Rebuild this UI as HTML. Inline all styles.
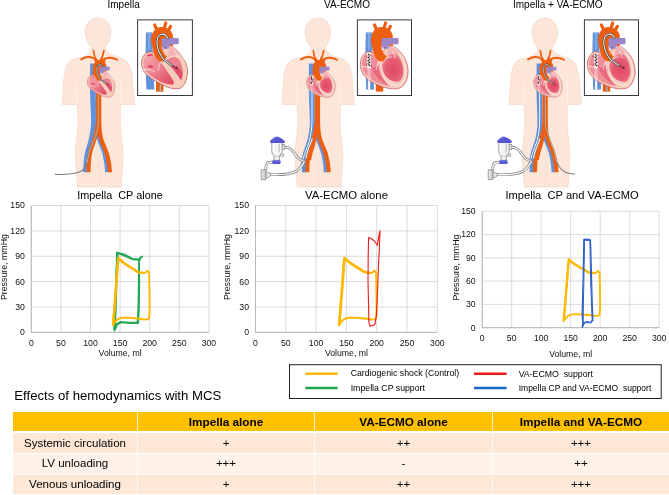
<!DOCTYPE html>
<html lang="en">
<head>
<meta charset="utf-8">
<title>Effects of hemodynamics with MCS</title>
<style>
html,body{margin:0;padding:0;background:#fff;}
body{width:669px;height:495px;position:relative;overflow:hidden;font-family:"Liberation Sans", Arial, sans-serif;}
svg{position:absolute;left:0;top:0;}
svg text{font-family:"Liberation Sans", Arial, sans-serif;}
table{position:absolute;left:13px;top:412px;width:656px;border-collapse:separate;border-spacing:0;font-size:11.55px;color:#000;table-layout:fixed;}
th,td{padding:0;text-align:center;vertical-align:middle;border-left:1px solid rgba(255,255,255,0.8);white-space:nowrap;box-sizing:border-box;}
th:first-child,td:first-child{border-left:none;}
thead th{background:#FFC000;height:21px;line-height:19px;font-weight:bold;font-size:11.75px;border-bottom:2px solid #fff;}
tbody td{height:20.5px;line-height:19.5px;border-top:1px solid rgba(255,255,255,0.7);}
tbody tr:first-child td{border-top:none;height:20px;line-height:20px;}
tbody tr:nth-child(odd) td{background:#FDE7D6;}
tbody tr:nth-child(even) td{background:#FFF3E9;}
</style>
</head>
<body>
<svg width="669" height="495" viewBox="0 0 669 495">
<g transform="translate(0,0)">
<path fill="#FCE6D9" stroke="#F3D2C0" stroke-width="0.6" d="M98 17.9 C105.5 17.9 110.8 24 110.8 31.5 C110.8 38 108.5 43.5 105.6 47 L105.6 48.5 C106.5 51 108 52.8 110.6 54.1 C113 55.4 115 56.2 117.6 57 C121 58 124 59.2 126.1 61.2 C128.3 63.2 129.6 65.6 130.4 68.3 C131.6 72 132.2 75.6 132.5 79.6 L134.6 104.4 L120.7 104.4 C120.3 111 120.2 117 120.3 123.8 C120.6 130 121.6 137 122.2 143 C122.8 148 123.2 153 123.1 158.3 L121.2 187.1 L99.4 187.1 L99.2 162.5 Q98.8 160 98.4 162.5 L98.2 187.1 L77.6 187.1 L75.2 158.3 C75.1 153 75.5 148 76.1 143 C76.8 137 77.8 130 78 123.8 C78 117 77.6 111 77.1 104.4 L62.1 104.4 L63.8 80.4 C64 76 64.5 72.5 65.6 69 C66.6 65.5 68.2 62.6 70.6 60.6 C73.2 58.8 77 58.2 80.5 57.7 C83.5 57 86 56 88 54.2 C89.8 52.6 90.8 51 91 49 L91 47 C87.6 43.5 85.2 38 85.2 31.5 C85.2 24 90.5 17.9 98 17.9 Z"/>
<path d="M76.6 83 L77 104.4 M120.9 82.4 L120.7 104.4" stroke="#FEF4EE" stroke-width="0.8" fill="none"/>
<path d="M90.1 63.4 L95.9 63.4 L95.9 126 L91.3 126 L90.1 96 Z" fill="#6193DD"/>
<path d="M93.5 100 L93.5 121 C93.3 128 92 135 90.6 141.2 C89 147 87.4 151 86.7 155 C85.8 161 85.4 166 85.3 172.2" stroke="#6193DD" stroke-width="4.4" fill="none"/>
<path d="M93.6 120 C95 128 97.5 136 99.6 141.2 C102 147 103.6 151 104.6 155 C106 161 106.7 166 106.9 172.2" stroke="#6193DD" stroke-width="3.6" fill="none"/>
<path d="M98.6 80 L98.6 132" stroke="#EE5E10" stroke-width="5.4" fill="none"/>
<path d="M97.6 124 C97.4 131 95.6 137 93.9 141.2 C91.8 146.5 90.5 150.5 89.7 154.4 C88.9 160 88.5 166 88.5 172.2" stroke="#EE5E10" stroke-width="4" fill="none"/>
<path d="M99.2 124 C99.4 131 100.4 137 101.9 141.2 C104 146.5 106 150.5 107.1 154.4 C108.7 160 109.8 166 110 172.2" stroke="#EE5E10" stroke-width="4.1" fill="none"/>
<path d="M93.5 50.5 C93.8 52.6 94.1 54.4 94.6 56.3 C95.4 58.6 96.6 60 98.2 62 M103.9 50.5 C103.5 52.6 103.1 54.4 102.5 56.3 C101.7 58.6 100.6 60 99.2 62" stroke="#EE5E10" stroke-width="1.7" fill="none" stroke-linecap="round"/>
<path d="M96.6 62 C95.6 60.2 94.4 58.4 92.5 57.7 C90.8 57 89.2 56.9 87.7 57 C85.2 57.3 83 58.2 81.2 59.4 M101.2 62.4 C102 60.6 103.2 59.3 104.9 58.7 C106.6 58 108.6 57.6 110.4 57.7 C113 57.9 115.4 58.7 117.3 59.8" stroke="#EE5E10" stroke-width="1.9" fill="none" stroke-linecap="round"/>
<path d="M95.6 63 L98.7 60.4 L101.8 63 Z" fill="#EE5E10"/>
<path d="M55 174.4 C66 174.6 76 173.6 80.5 171.5 C83.6 170 85.6 167 86.8 163" stroke="#7C7C7C" stroke-width="1.1" fill="none"/>
<path d="M86.8 163 C88 158.5 88.4 156 89 153.5 C90 149.5 91.4 146 93.4 141.5 C95.6 136.5 97.8 131 98.2 124 L98.2 95" stroke="#8A7A6A" stroke-width="1.1" fill="none"/>
<path d="M86.8 163 C88 158.5 88.4 156 89 153.5 C90 149.5 91.4 146 93.4 141.5 C95.6 136.5 97.8 131 98.2 124 L98.2 95" stroke="#E6DCD0" stroke-width="0.5" fill="none"/>
<path fill="#EE5E10" d="M92.9 77 L92.9 68 C92.9 64.2 95.8 61.6 99.7 61.6 C103.8 61.6 106.6 64.2 106.6 67.8 L106.6 70 L100 71 L100 77 Z"/>
<g transform="translate(2.4,43.9) scale(0.6)">
<path fill="#F6CDBB" stroke="#BE4C58" stroke-width="0.7" d="M154.9 53.4 C153 52 151.5 51.6 149.7 51.8 C146.5 52.4 144.2 54.2 143.2 56.6 C141.9 59.5 141.4 62 141.7 65 C142.2 69 144 72 146.5 74.6 C149.5 77.4 153 79.8 157 82 C160.5 84 164 85.8 167.5 87.2 C171.5 88.6 176 89.3 180.1 88.3 C182.6 87.2 184.4 84.8 185.4 82 C186.8 78.5 187.6 75 187.6 71.3 C187.6 67.5 186.4 64 184.5 60.4 C182.8 57.2 181 54.4 178.6 52 C176.2 49.4 173.6 46.4 170.6 44.2 L162 50 L160 57 Z"/>
<linearGradient id="hb0" x1="0.1" y1="0.1" x2="0.9" y2="0.9"><stop offset="0" stop-color="#F3A2AA"/><stop offset="0.55" stop-color="#EA7C8A"/><stop offset="1" stop-color="#DF4C66"/></linearGradient>
<path fill="url(#hb0)" d="M155 54.8 C153 53.6 151.4 53.3 149.8 53.5 C147.2 54 145.4 55.6 144.6 57.6 C143.5 60 143.2 62.5 143.5 65 C144 68.4 145.6 71 147.8 73.3 C150.6 76 154 78.2 157.8 80.3 C162.5 82.8 167.5 84.8 173 84.6 C174 84.2 174 82.8 173.6 81.2 C170.5 76 166 69 161.7 63.4 C160.5 60 158.5 57 155 54.8 Z"/>
<path fill="#E23A4E" d="M146.6 55.8 C148.4 54.3 151 53.9 153 54.6 C151.4 56 148.8 56.6 146.6 55.8 Z"/>
<path fill="#F3A0A8" d="M146.4 66 C148.6 64.2 152.6 64.4 155 67 C152.6 69.4 148.4 69 146.4 66 Z"/>
<path fill="#E03C52" d="M147.4 66 C149.2 64.9 152.2 65.1 154 67 C152 68.5 149 68.2 147.4 66 Z"/>
<path fill="#EC8090" d="M165 60.6 C168.6 57.6 173.6 56.4 177.2 57.6 C180.2 60 182.2 65 182.7 70 C183 74.5 182.6 78 181 80 C176 73.5 170.6 66.6 165 60.6 Z"/>
<path fill="#E0506A" d="M171.5 66.2 C175 65.6 179.6 67.6 182.4 72 C182.6 75.5 182.2 78.2 181 80 C178 75.6 174.8 70.8 171.5 66.2 Z"/>
<path fill="#F4B2B7" d="M170.8 45.6 C174 47.6 177.6 51 180.4 55.2 C177 54 172 54.6 167.6 58 C168.4 53 169.4 48.6 170.8 45.6 Z"/>
<path d="M143.8 69.6 C147.5 69.2 151.5 69.8 154.6 71.6 M160.3 62.6 C159.2 65.5 158.4 68 158.2 70.6 M170.7 44.8 C175.5 47.2 181 53 184.2 60 M174.6 50.6 C176.4 53 177.2 55.4 177.2 57.6 M165.2 60.4 C166.4 59 168 58.2 169.6 58" stroke="#FFF8F4" stroke-width="0.7" fill="none" stroke-linecap="round"/>
<path fill="#EE5E10" d="M159 61 C155.5 58 154 54.5 153.2 51 C152.2 46 151 43 151.2 39 C151.5 33 155 28 160.3 27.1 C166.3 26.5 171.8 30 172.9 35.3 L173 46 L161.6 46 C161.7 49.5 162.8 53 167 56.6 L163.5 61.5 Z"/>
<path d="M156.6 29.3 L154.7 25 M164.4 27.8 L165.8 23 M168.8 29.6 L170.6 26.4" stroke="#EE5E10" stroke-width="3.2" stroke-linecap="round" fill="none"/>
<path fill="#9B86C8" d="M161.6 40 C161.6 38.6 162.6 38 164 38 L177.4 38 C178.4 38 178.8 38.6 178.8 39.6 L178.8 42.8 C178.8 43.8 178.2 44.3 177.2 44.3 L170.4 44.3 C169.6 45.6 169.4 47 169.1 48.5 C167.3 49.4 163.4 49.2 162 48 Z"/>
<ellipse cx="165.6" cy="47.7" rx="3" ry="1" fill="#CDBDE6"/>
<ellipse cx="165.6" cy="47.7" rx="1.8" ry="0.5" fill="#45356F"/>
<path d="M167.6 38 C166.8 35.2 164 33.6 161.4 34.3 C158.2 35.3 156.6 39 157 44 C157.6 50 160 55 163.8 59.6 L172.3 65.6" stroke="#3E3E3E" stroke-width="2.3" fill="none" stroke-linecap="round" stroke-linejoin="round"/>
<path d="M167.6 38 C166.8 35.2 164 33.6 161.4 34.3 C158.2 35.3 156.6 39 157 44 C157.6 50 160 55 163.8 59.6 L172.3 65.6" stroke="#E8F1F6" stroke-width="1.1" fill="none" stroke-linecap="round" stroke-linejoin="round"/>
<path d="M172.3 65.6 L175.4 67.4" stroke="#3A2A2A" stroke-width="0.9" fill="none"/>
<circle cx="176.7" cy="67.7" r="1.25" fill="#7A2A38"/>
</g>
<rect x="137.6" y="19.9" width="54.8" height="75.6" fill="#fff" stroke="#3A3A3A" stroke-width="1"/>
<path fill="#6193DD" d="M146 32.4 L152.4 32.4 L152.8 60 L154.4 89.6 L146.4 89.6 L145.4 60 Z"/>
<path d="M149.2 33 L149.2 50" stroke="#7FA9E6" stroke-width="2.2" fill="none"/>
<ellipse cx="149.2" cy="32.6" rx="3.2" ry="0.9" fill="#9CC0F0"/>
<rect x="156" y="80" width="7.4" height="11.6" fill="#EE5E10"/>
<path d="M160.2 84 L160.2 91.6" stroke="#6A6A6A" stroke-width="1.7" fill="none"/>
<path d="M160.2 84 L160.2 91.6" stroke="#F0F0F0" stroke-width="0.8" fill="none"/>
<path fill="#F6CDBB" stroke="#BE4C58" stroke-width="0.7" d="M154.9 53.4 C153 52 151.5 51.6 149.7 51.8 C146.5 52.4 144.2 54.2 143.2 56.6 C141.9 59.5 141.4 62 141.7 65 C142.2 69 144 72 146.5 74.6 C149.5 77.4 153 79.8 157 82 C160.5 84 164 85.8 167.5 87.2 C171.5 88.6 176 89.3 180.1 88.3 C182.6 87.2 184.4 84.8 185.4 82 C186.8 78.5 187.6 75 187.6 71.3 C187.6 67.5 186.4 64 184.5 60.4 C182.8 57.2 181 54.4 178.6 52 C176.2 49.4 173.6 46.4 170.6 44.2 L162 50 L160 57 Z"/>
<linearGradient id="gi0" x1="0.1" y1="0.1" x2="0.9" y2="0.9"><stop offset="0" stop-color="#F3A2AA"/><stop offset="0.55" stop-color="#EA7C8A"/><stop offset="1" stop-color="#DF4C66"/></linearGradient>
<path fill="url(#gi0)" d="M155 54.8 C153 53.6 151.4 53.3 149.8 53.5 C147.2 54 145.4 55.6 144.6 57.6 C143.5 60 143.2 62.5 143.5 65 C144 68.4 145.6 71 147.8 73.3 C150.6 76 154 78.2 157.8 80.3 C162.5 82.8 167.5 84.8 173 84.6 C174 84.2 174 82.8 173.6 81.2 C170.5 76 166 69 161.7 63.4 C160.5 60 158.5 57 155 54.8 Z"/>
<path fill="#E23A4E" d="M146.6 55.8 C148.4 54.3 151 53.9 153 54.6 C151.4 56 148.8 56.6 146.6 55.8 Z"/>
<path fill="#F3A0A8" d="M146.4 66 C148.6 64.2 152.6 64.4 155 67 C152.6 69.4 148.4 69 146.4 66 Z"/>
<path fill="#E03C52" d="M147.4 66 C149.2 64.9 152.2 65.1 154 67 C152 68.5 149 68.2 147.4 66 Z"/>
<path fill="#EC8090" d="M165 60.6 C168.6 57.6 173.6 56.4 177.2 57.6 C180.2 60 182.2 65 182.7 70 C183 74.5 182.6 78 181 80 C176 73.5 170.6 66.6 165 60.6 Z"/>
<path fill="#E0506A" d="M171.5 66.2 C175 65.6 179.6 67.6 182.4 72 C182.6 75.5 182.2 78.2 181 80 C178 75.6 174.8 70.8 171.5 66.2 Z"/>
<path fill="#F4B2B7" d="M170.8 45.6 C174 47.6 177.6 51 180.4 55.2 C177 54 172 54.6 167.6 58 C168.4 53 169.4 48.6 170.8 45.6 Z"/>
<path d="M143.8 69.6 C147.5 69.2 151.5 69.8 154.6 71.6 M160.3 62.6 C159.2 65.5 158.4 68 158.2 70.6 M170.7 44.8 C175.5 47.2 181 53 184.2 60 M174.6 50.6 C176.4 53 177.2 55.4 177.2 57.6 M165.2 60.4 C166.4 59 168 58.2 169.6 58" stroke="#FFF8F4" stroke-width="0.7" fill="none" stroke-linecap="round"/>
<path fill="#EE5E10" d="M159 61 C155.5 58 154 54.5 153.2 51 C152.2 46 151 43 151.2 39 C151.5 33 155 28 160.3 27.1 C166.3 26.5 171.8 30 172.9 35.3 L173 46 L161.6 46 C161.7 49.5 162.8 53 167 56.6 L163.5 61.5 Z"/>
<path d="M156.6 29.3 L154.7 25 M164.4 27.8 L165.8 23 M168.8 29.6 L170.6 26.4" stroke="#EE5E10" stroke-width="3.2" stroke-linecap="round" fill="none"/>
<path fill="#9B86C8" d="M161.6 40 C161.6 38.6 162.6 38 164 38 L177.4 38 C178.4 38 178.8 38.6 178.8 39.6 L178.8 42.8 C178.8 43.8 178.2 44.3 177.2 44.3 L170.4 44.3 C169.6 45.6 169.4 47 169.1 48.5 C167.3 49.4 163.4 49.2 162 48 Z"/>
<ellipse cx="165.6" cy="47.7" rx="3" ry="1" fill="#CDBDE6"/>
<ellipse cx="165.6" cy="47.7" rx="1.8" ry="0.5" fill="#45356F"/>
<path d="M167.6 38 C166.8 35.2 164 33.6 161.4 34.3 C158.2 35.3 156.6 39 157 44 C157.6 50 160 55 163.8 59.6 L172.3 65.6" stroke="#3E3E3E" stroke-width="2.3" fill="none" stroke-linecap="round" stroke-linejoin="round"/>
<path d="M167.6 38 C166.8 35.2 164 33.6 161.4 34.3 C158.2 35.3 156.6 39 157 44 C157.6 50 160 55 163.8 59.6 L172.3 65.6" stroke="#E8F1F6" stroke-width="1.1" fill="none" stroke-linecap="round" stroke-linejoin="round"/>
<path d="M172.3 65.6 L175.4 67.4" stroke="#3A2A2A" stroke-width="0.9" fill="none"/>
<circle cx="176.7" cy="67.7" r="1.25" fill="#7A2A38"/>
</g>
<g transform="translate(219.8,0)">
<path fill="#FCE6D9" stroke="#F3D2C0" stroke-width="0.6" d="M98 17.9 C105.5 17.9 110.8 24 110.8 31.5 C110.8 38 108.5 43.5 105.6 47 L105.6 48.5 C106.5 51 108 52.8 110.6 54.1 C113 55.4 115 56.2 117.6 57 C121 58 124 59.2 126.1 61.2 C128.3 63.2 129.6 65.6 130.4 68.3 C131.6 72 132.2 75.6 132.5 79.6 L134.6 104.4 L120.7 104.4 C120.3 111 120.2 117 120.3 123.8 C120.6 130 121.6 137 122.2 143 C122.8 148 123.2 153 123.1 158.3 L121.2 187.1 L99.4 187.1 L99.2 162.5 Q98.8 160 98.4 162.5 L98.2 187.1 L77.6 187.1 L75.2 158.3 C75.1 153 75.5 148 76.1 143 C76.8 137 77.8 130 78 123.8 C78 117 77.6 111 77.1 104.4 L62.1 104.4 L63.8 80.4 C64 76 64.5 72.5 65.6 69 C66.6 65.5 68.2 62.6 70.6 60.6 C73.2 58.8 77 58.2 80.5 57.7 C83.5 57 86 56 88 54.2 C89.8 52.6 90.8 51 91 49 L91 47 C87.6 43.5 85.2 38 85.2 31.5 C85.2 24 90.5 17.9 98 17.9 Z"/>
<path d="M76.6 83 L77 104.4 M120.9 82.4 L120.7 104.4" stroke="#FEF4EE" stroke-width="0.8" fill="none"/>
<path d="M89.1 63.4 L94.9 63.4 L94.9 126 L90.3 126 L89.1 96 Z" fill="#6193DD"/>
<path d="M92.5 100 L92.5 121 C92.3 128 91 135 89.6 141.2 C88 147 86.4 151 85.7 155 C84.8 161 84.4 166 84.3 172.2" stroke="#6193DD" stroke-width="4.4" fill="none"/>
<path d="M92.6 120 C94 128 96.5 136 98.6 141.2 C101 147 102.6 151 103.6 155 C105 161 105.7 166 105.9 172.2" stroke="#6193DD" stroke-width="3.6" fill="none"/>
<path d="M97.6 80 L97.6 132" stroke="#EE5E10" stroke-width="5.4" fill="none"/>
<path d="M96.6 124 C96.4 131 94.6 137 92.9 141.2 C90.8 146.5 89.5 150.5 88.7 154.4 C87.9 160 87.5 166 87.5 172.2" stroke="#EE5E10" stroke-width="4" fill="none"/>
<path d="M98.2 124 C98.4 131 99.4 137 100.9 141.2 C103 146.5 105 150.5 106.1 154.4 C107.7 160 108.8 166 109 172.2" stroke="#EE5E10" stroke-width="4.1" fill="none"/>
<path d="M93.5 50.5 C93.8 52.6 94.1 54.4 94.6 56.3 C95.4 58.6 96.6 60 98.2 62 M103.9 50.5 C103.5 52.6 103.1 54.4 102.5 56.3 C101.7 58.6 100.6 60 99.2 62" stroke="#EE5E10" stroke-width="1.7" fill="none" stroke-linecap="round"/>
<path d="M96.6 62 C95.6 60.2 94.4 58.4 92.5 57.7 C90.8 57 89.2 56.9 87.7 57 C85.2 57.3 83 58.2 81.2 59.4 M101.2 62.4 C102 60.6 103.2 59.3 104.9 58.7 C106.6 58 108.6 57.6 110.4 57.7 C113 57.9 115.4 58.7 117.3 59.8" stroke="#EE5E10" stroke-width="1.9" fill="none" stroke-linecap="round"/>
<path d="M95.6 63 L98.7 60.4 L101.8 63 Z" fill="#EE5E10"/>
<path d="M82.4 166 C83.2 160 84.4 155 85.4 151.5 C86.8 148 88.1 145 89.3 141.2" stroke="#6193DD" stroke-width="3.4" fill="none"/>
<path d="M89.6 160 C90.2 155 91.6 150 93.2 146 C94.4 143 95.4 140 95.9 133" stroke="#EE5E10" stroke-width="3.4" fill="none"/>
<path d="M82.9 161 C83.8 157 84.7 154 85.6 151.5 C87 148 88.3 145 89.5 141.2 C91 135 92.1 128 92.2 121 L92.2 84" stroke="#4F7FD0" stroke-width="1.7" fill="none"/><path d="M82.9 161 C83.8 157 84.7 154 85.6 151.5 C87 148 88.3 145 89.5 141.2 C91 135 92.1 128 92.2 121 L92.2 84" stroke="#FFFFFF" stroke-width="1.0" fill="none"/>
<path d="M86 158.3 C87 153 88.6 148.5 90.3 144.5 C91.3 142.3 92 140.5 92.5 138.6" stroke="#8E8680" stroke-width="1.9" fill="none"/><path d="M86 158.3 C87 153 88.6 148.5 90.3 144.5 C91.3 142.3 92 140.5 92.5 138.6" stroke="#FFFFFF" stroke-width="1.0" fill="none"/>
<path fill="#EE5E10" d="M92.9 77 L92.9 68 C92.9 64.2 95.8 61.6 99.7 61.6 C103.8 61.6 106.6 64.2 106.6 67.8 L106.6 70 L100 71 L100 77 Z"/>
<g transform="translate(2.4,43.9) scale(0.6)">
<path fill="#F6CDBB" stroke="#BE4C58" stroke-width="0.7" d="M148.6 51.6 C144 52.5 140.6 58 140.5 64.5 C140.6 70 143 75 148 79.2 C154 83.8 162 87.6 172 88.8 C177 89.3 181.5 88.4 184 85 C187 81 188.4 76 188.3 71 C188 64 185.5 57.5 181 52.5 C178 49.3 174.5 46.2 170.5 44.2 L158 56 C155 53.5 152 51.5 148.6 51.6 Z"/>
<path fill="#EF8D99" d="M148.8 53.3 C145 54 142.3 58.5 142.2 64.5 C142.3 69.5 144.5 74 149 77.8 C154.5 82 162 85.2 170.5 86.3 C166 83 162.5 78 161.2 72 C160.6 68 160 65 158.6 62 L157 57.5 C154.5 55 151.5 53.2 148.8 53.3 Z"/>
<path fill="#E86A7C" d="M152 68 C153.5 74 160 81.5 168.6 85.6 C164.6 82 162 77.5 160.8 72 C160.4 69.5 159.8 67 159 65 C156.5 66.5 154 67.5 152 68 Z"/>
<path fill="#F4AEB4" d="M170.6 45.8 C174 47.5 177.5 50.5 180.2 53.8 C176 52.5 171 53.5 167.5 57 C168 52.5 169.2 48.5 170.6 45.8 Z"/>
<radialGradient id="gb219" cx="0.55" cy="0.55" r="0.6"><stop offset="0" stop-color="#E04863"/><stop offset="0.6" stop-color="#E65C72"/><stop offset="1" stop-color="#F0909C"/></radialGradient>
<path fill="url(#gb219)" d="M166.9 58.3 C169.5 54.5 173 52.5 176.5 54 C180 56.5 183 63 183.6 70 C184 76 181.5 81 178.3 82.4 C174 82.6 169 80.5 165.6 76.5 C163 73 161.6 68.5 161.6 65 C162.8 62 164.8 59.8 166.9 58.3 Z"/>
<path d="M158.8 62.3 C159.2 68 160.5 74 164 78.6 C168 83.3 174 85.8 179.5 85.2 C183.5 83.5 186 78 186 71.5 C185.8 64 183 57 178.8 52.2 C176.5 49.5 173.5 46.5 170.7 44.8" stroke="#FFF8F4" stroke-width="0.7" fill="none" stroke-linecap="round"/>
<path d="M166.9 58.3 C164.8 59.8 162.8 62 161.6 65 C161.6 68.5 163 73 165.6 76.5 C169 80.5 174 82.6 178.3 82.4" stroke="#FFF8F4" stroke-width="0.6" fill="none" stroke-linecap="round"/>
<path d="M142.4 66.5 C146 67 150 67.3 153.2 66.6 M158.7 62.2 C157.6 64.5 156.6 67 156.4 69.5 M172.4 51 C174 53.5 175 55.5 175.2 57.8 M167 58.2 C168.5 57.2 170 56.8 171.5 57" stroke="#FFF8F4" stroke-width="0.7" fill="none" stroke-linecap="round"/>
<path fill="#EE5E10" d="M159 61 C155.5 58 154 54.5 153.2 51 C152.2 46 151 43 151.2 39 C151.5 33 155 28 160.3 27.1 C166.3 26.5 171.8 30 172.9 35.3 L173 46 L161.6 46 C161.7 49.5 162.8 53 167 56.6 L163.5 61.5 Z"/>
<path d="M156.6 29.3 L154.7 25 M164.4 27.8 L165.8 23 M168.8 29.6 L170.6 26.4" stroke="#EE5E10" stroke-width="3.2" stroke-linecap="round" fill="none"/>
<path fill="#9B86C8" d="M161.6 40 C161.6 38.6 162.6 38 164 38 L177.4 38 C178.4 38 178.8 38.6 178.8 39.6 L178.8 42.8 C178.8 43.8 178.2 44.3 177.2 44.3 L170.4 44.3 C169.6 45.6 169.4 47 169.1 48.5 C167.3 49.4 163.4 49.2 162 48 Z"/>
<ellipse cx="165.6" cy="47.7" rx="3" ry="1" fill="#CDBDE6"/>
<ellipse cx="165.6" cy="47.7" rx="1.8" ry="0.5" fill="#45356F"/>
<path d="M149.2 53 L149.2 80" stroke="#FFFFFF" stroke-width="3.2" stroke-opacity="0.35" fill="none"/>
<rect x="147.5" y="52.9" width="3.4" height="15.2" fill="#FFFFFF"/>
<path d="M148.3 54 L150.1 55.6 L148.3 57.2 L150.1 58.8 L148.3 60.4 L150.1 62 L148.3 63.6 L150.1 65.2 L148.3 66.8" stroke="#111111" stroke-width="1.7" stroke-dasharray="2 1.6" fill="none"/>
<circle cx="146.4" cy="56.2" r="0.7" fill="#D62038"/><circle cx="146.8" cy="65" r="0.7" fill="#D62038"/><circle cx="151.9" cy="66.5" r="0.8" fill="#D62038"/>
</g>
<rect x="137.6" y="19.9" width="54.1" height="75.6" fill="#fff" stroke="#3A3A3A" stroke-width="1"/>
<path fill="#6193DD" d="M146 32.4 L152.4 32.4 L152.8 60 L154.4 89.6 L146.4 89.6 L145.4 60 Z"/>
<path d="M149.2 33 L149.2 50" stroke="#7FA9E6" stroke-width="2.2" fill="none"/>
<ellipse cx="149.2" cy="32.6" rx="3.2" ry="0.9" fill="#9CC0F0"/>
<path d="M149.4 76 L149.4 89.6" stroke="#FFFFFF" stroke-width="3" fill="none"/>
<path d="M147.9 76 L147.9 89.6 M150.9 76 L150.9 89.6" stroke="#3C5C9C" stroke-width="0.5" fill="none"/>
<rect x="156" y="80" width="7.4" height="11.6" fill="#EE5E10"/>
<path fill="#F6CDBB" stroke="#BE4C58" stroke-width="0.7" d="M148.6 51.6 C144 52.5 140.6 58 140.5 64.5 C140.6 70 143 75 148 79.2 C154 83.8 162 87.6 172 88.8 C177 89.3 181.5 88.4 184 85 C187 81 188.4 76 188.3 71 C188 64 185.5 57.5 181 52.5 C178 49.3 174.5 46.2 170.5 44.2 L158 56 C155 53.5 152 51.5 148.6 51.6 Z"/>
<path fill="#EF8D99" d="M148.8 53.3 C145 54 142.3 58.5 142.2 64.5 C142.3 69.5 144.5 74 149 77.8 C154.5 82 162 85.2 170.5 86.3 C166 83 162.5 78 161.2 72 C160.6 68 160 65 158.6 62 L157 57.5 C154.5 55 151.5 53.2 148.8 53.3 Z"/>
<path fill="#E86A7C" d="M152 68 C153.5 74 160 81.5 168.6 85.6 C164.6 82 162 77.5 160.8 72 C160.4 69.5 159.8 67 159 65 C156.5 66.5 154 67.5 152 68 Z"/>
<path fill="#F4AEB4" d="M170.6 45.8 C174 47.5 177.5 50.5 180.2 53.8 C176 52.5 171 53.5 167.5 57 C168 52.5 169.2 48.5 170.6 45.8 Z"/>
<radialGradient id="gi219" cx="0.55" cy="0.55" r="0.6"><stop offset="0" stop-color="#E04863"/><stop offset="0.6" stop-color="#E65C72"/><stop offset="1" stop-color="#F0909C"/></radialGradient>
<path fill="url(#gi219)" d="M166.9 58.3 C169.5 54.5 173 52.5 176.5 54 C180 56.5 183 63 183.6 70 C184 76 181.5 81 178.3 82.4 C174 82.6 169 80.5 165.6 76.5 C163 73 161.6 68.5 161.6 65 C162.8 62 164.8 59.8 166.9 58.3 Z"/>
<path d="M158.8 62.3 C159.2 68 160.5 74 164 78.6 C168 83.3 174 85.8 179.5 85.2 C183.5 83.5 186 78 186 71.5 C185.8 64 183 57 178.8 52.2 C176.5 49.5 173.5 46.5 170.7 44.8" stroke="#FFF8F4" stroke-width="0.7" fill="none" stroke-linecap="round"/>
<path d="M166.9 58.3 C164.8 59.8 162.8 62 161.6 65 C161.6 68.5 163 73 165.6 76.5 C169 80.5 174 82.6 178.3 82.4" stroke="#FFF8F4" stroke-width="0.6" fill="none" stroke-linecap="round"/>
<path d="M142.4 66.5 C146 67 150 67.3 153.2 66.6 M158.7 62.2 C157.6 64.5 156.6 67 156.4 69.5 M172.4 51 C174 53.5 175 55.5 175.2 57.8 M167 58.2 C168.5 57.2 170 56.8 171.5 57" stroke="#FFF8F4" stroke-width="0.7" fill="none" stroke-linecap="round"/>
<path fill="#EE5E10" d="M159 61 C155.5 58 154 54.5 153.2 51 C152.2 46 151 43 151.2 39 C151.5 33 155 28 160.3 27.1 C166.3 26.5 171.8 30 172.9 35.3 L173 46 L161.6 46 C161.7 49.5 162.8 53 167 56.6 L163.5 61.5 Z"/>
<path d="M156.6 29.3 L154.7 25 M164.4 27.8 L165.8 23 M168.8 29.6 L170.6 26.4" stroke="#EE5E10" stroke-width="3.2" stroke-linecap="round" fill="none"/>
<path fill="#9B86C8" d="M161.6 40 C161.6 38.6 162.6 38 164 38 L177.4 38 C178.4 38 178.8 38.6 178.8 39.6 L178.8 42.8 C178.8 43.8 178.2 44.3 177.2 44.3 L170.4 44.3 C169.6 45.6 169.4 47 169.1 48.5 C167.3 49.4 163.4 49.2 162 48 Z"/>
<ellipse cx="165.6" cy="47.7" rx="3" ry="1" fill="#CDBDE6"/>
<ellipse cx="165.6" cy="47.7" rx="1.8" ry="0.5" fill="#45356F"/>
<path d="M149.2 53 L149.2 80" stroke="#FFFFFF" stroke-width="3.2" stroke-opacity="0.35" fill="none"/>
<rect x="147.5" y="52.9" width="3.4" height="15.2" fill="#FFFFFF"/>
<path d="M148.3 54 L150.1 55.6 L148.3 57.2 L150.1 58.8 L148.3 60.4 L150.1 62 L148.3 63.6 L150.1 65.2 L148.3 66.8" stroke="#111111" stroke-width="1.1" stroke-dasharray="1.5 0.9" fill="none"/>
<circle cx="146.4" cy="56.2" r="0.7" fill="#D62038"/><circle cx="146.8" cy="65" r="0.7" fill="#D62038"/><circle cx="151.9" cy="66.5" r="0.8" fill="#D62038"/>
<g transform="translate(-219.8,0)">
<path d="M285 147.4 C291 147.2 293.2 151.6 296 155.6 C298.6 159.3 301 160.6 303.6 160.4" stroke="#7E7E7E" stroke-width="2.7" fill="none" stroke-linecap="round"/><path d="M285 147.4 C291 147.2 293.2 151.6 296 155.6 C298.6 159.3 301 160.6 303.6 160.4" stroke="#F6F6F6" stroke-width="1.4" fill="none" stroke-linecap="round"/>
<path d="M270.4 174.7 C281 175 291 174.4 296.6 171 C300.2 168.6 302.4 165.4 304.2 161.6" stroke="#7E7E7E" stroke-width="2.7" fill="none" stroke-linecap="round"/><path d="M270.4 174.7 C281 175 291 174.4 296.6 171 C300.2 168.6 302.4 165.4 304.2 161.6" stroke="#F6F6F6" stroke-width="1.4" fill="none" stroke-linecap="round"/>
<path d="M272.6 162.2 C268.6 162 266.2 163.4 266 166.4 L265.9 170" stroke="#7E7E7E" stroke-width="2.7" fill="none" stroke-linecap="round"/><path d="M272.6 162.2 C268.6 162 266.2 163.4 266 166.4 L265.9 170" stroke="#F6F6F6" stroke-width="1.4" fill="none" stroke-linecap="round"/>
<rect x="261.2" y="169.8" width="4.7" height="9.8" rx="0.5" fill="#D6D6D6" stroke="#777" stroke-width="0.7"/>
<path d="M262.4 170.6 L262.4 178.8" stroke="#F2F2F2" stroke-width="0.8"/>
<path d="M265.9 172 L268.6 172.6 L270.4 173.8 L270.4 175.8 L268.6 177.2 L265.9 178 Z" fill="#E2E2E2" stroke="#777" stroke-width="0.6"/>
<path d="M271.8 142 L282.2 142 L282.2 151.8 C282.2 154 279.6 154.6 279.4 156.2 L279.4 160.3 L274 160.3 L274 156.2 C273.8 154.6 271.8 154 271.8 151.8 Z" fill="#F4F4F4" stroke="#7E7E7E" stroke-width="0.7"/>
<path d="M279.2 143.4 L279.2 152.4" stroke="#CACACA" stroke-width="1.5"/>
<path d="M273.4 143.4 L273.4 152" stroke="#FFFFFF" stroke-width="1.2"/>
<path d="M274 156.2 L279.4 156.2" stroke="#9A9A9A" stroke-width="0.5"/>
<rect x="282.2" y="144.6" width="2.6" height="5" fill="#E4E4E4" stroke="#7E7E7E" stroke-width="0.6"/>
<rect x="280.8" y="154" width="3" height="2.4" fill="#E4E4E4" stroke="#7E7E7E" stroke-width="0.5"/>
<path d="M270.2 141.4 C270.6 139.6 273.6 137.2 276.4 136.4 C279.6 137 283.8 139.4 284.9 141.4 C285 142.4 284.4 142.9 283.4 142.9 L271.6 142.9 C270.6 142.9 270 142.4 270.2 141.4 Z" fill="#5454D2"/>
<path d="M272.6 140 C274 138.6 275.4 137.8 276.6 137.4" stroke="#8C8CEA" stroke-width="0.9" fill="none" stroke-linecap="round"/>
<rect x="272.3" y="160.2" width="8.3" height="3.7" rx="1.2" fill="#5454D2"/>
<path d="M273.6 161.2 L279.2 161.2" stroke="#8C8CEA" stroke-width="0.7"/>
</g>
</g>
<g transform="translate(446.8,0)">
<path fill="#FCE6D9" stroke="#F3D2C0" stroke-width="0.6" d="M98 17.9 C105.5 17.9 110.8 24 110.8 31.5 C110.8 38 108.5 43.5 105.6 47 L105.6 48.5 C106.5 51 108 52.8 110.6 54.1 C113 55.4 115 56.2 117.6 57 C121 58 124 59.2 126.1 61.2 C128.3 63.2 129.6 65.6 130.4 68.3 C131.6 72 132.2 75.6 132.5 79.6 L134.6 104.4 L120.7 104.4 C120.3 111 120.2 117 120.3 123.8 C120.6 130 121.6 137 122.2 143 C122.8 148 123.2 153 123.1 158.3 L121.2 187.1 L99.4 187.1 L99.2 162.5 Q98.8 160 98.4 162.5 L98.2 187.1 L77.6 187.1 L75.2 158.3 C75.1 153 75.5 148 76.1 143 C76.8 137 77.8 130 78 123.8 C78 117 77.6 111 77.1 104.4 L62.1 104.4 L63.8 80.4 C64 76 64.5 72.5 65.6 69 C66.6 65.5 68.2 62.6 70.6 60.6 C73.2 58.8 77 58.2 80.5 57.7 C83.5 57 86 56 88 54.2 C89.8 52.6 90.8 51 91 49 L91 47 C87.6 43.5 85.2 38 85.2 31.5 C85.2 24 90.5 17.9 98 17.9 Z"/>
<path d="M76.6 83 L77 104.4 M120.9 82.4 L120.7 104.4" stroke="#FEF4EE" stroke-width="0.8" fill="none"/>
<path d="M89.8 63.4 L95.60000000000001 63.4 L95.60000000000001 126 L91.0 126 L89.8 96 Z" fill="#6193DD"/>
<path d="M93.2 100 L93.2 121 C93.0 128 91.7 135 90.3 141.2 C88.7 147 87.10000000000001 151 86.4 155 C85.5 161 85.10000000000001 166 85.0 172.2" stroke="#6193DD" stroke-width="4.4" fill="none"/>
<path d="M93.3 120 C94.7 128 97.2 136 99.3 141.2 C101.7 147 103.3 151 104.3 155 C105.7 161 106.4 166 106.60000000000001 172.2" stroke="#6193DD" stroke-width="3.6" fill="none"/>
<path d="M98.3 80 L98.3 132" stroke="#EE5E10" stroke-width="5.4" fill="none"/>
<path d="M97.3 124 C97.10000000000001 131 95.3 137 93.60000000000001 141.2 C91.5 146.5 90.2 150.5 89.4 154.4 C88.60000000000001 160 88.2 166 88.2 172.2" stroke="#EE5E10" stroke-width="4" fill="none"/>
<path d="M98.9 124 C99.10000000000001 131 100.10000000000001 137 101.60000000000001 141.2 C103.7 146.5 105.7 150.5 106.8 154.4 C108.4 160 109.5 166 109.7 172.2" stroke="#EE5E10" stroke-width="4.1" fill="none"/>
<path d="M93.5 50.5 C93.8 52.6 94.1 54.4 94.6 56.3 C95.4 58.6 96.6 60 98.2 62 M103.9 50.5 C103.5 52.6 103.1 54.4 102.5 56.3 C101.7 58.6 100.6 60 99.2 62" stroke="#EE5E10" stroke-width="1.7" fill="none" stroke-linecap="round"/>
<path d="M96.6 62 C95.6 60.2 94.4 58.4 92.5 57.7 C90.8 57 89.2 56.9 87.7 57 C85.2 57.3 83 58.2 81.2 59.4 M101.2 62.4 C102 60.6 103.2 59.3 104.9 58.7 C106.6 58 108.6 57.6 110.4 57.7 C113 57.9 115.4 58.7 117.3 59.8" stroke="#EE5E10" stroke-width="1.9" fill="none" stroke-linecap="round"/>
<path d="M95.6 63 L98.7 60.4 L101.8 63 Z" fill="#EE5E10"/>
<path d="M83.10000000000001 166 C83.9 160 85.10000000000001 155 86.10000000000001 151.5 C87.5 148 88.8 145 90.0 141.2" stroke="#6193DD" stroke-width="3.4" fill="none"/>
<path d="M90.3 160 C90.9 155 92.3 150 93.9 146 C95.10000000000001 143 96.10000000000001 140 96.60000000000001 133" stroke="#EE5E10" stroke-width="3.4" fill="none"/>
<path d="M83.60000000000001 161 C84.5 157 85.4 154 86.3 151.5 C87.7 148 89.0 145 90.2 141.2 C91.7 135 92.8 128 92.9 121 L92.9 84" stroke="#4F7FD0" stroke-width="1.7" fill="none"/><path d="M83.60000000000001 161 C84.5 157 85.4 154 86.3 151.5 C87.7 148 89.0 145 90.2 141.2 C91.7 135 92.8 128 92.9 121 L92.9 84" stroke="#FFFFFF" stroke-width="1.0" fill="none"/>
<path d="M86.7 158.3 C87.7 153 89.3 148.5 91.0 144.5 C92.0 142.3 92.7 140.5 93.2 138.6" stroke="#8E8680" stroke-width="1.9" fill="none"/><path d="M86.7 158.3 C87.7 153 89.3 148.5 91.0 144.5 C92.0 142.3 92.7 140.5 93.2 138.6" stroke="#FFFFFF" stroke-width="1.0" fill="none"/>
<path d="M98.6 95 L98.6 124 C98.8 128 99.8 130 100.7 132 C101.6 135 102.5 138 103.5 141 C104.6 144 105.8 147 107 150 C107.9 153 108.6 156 109.2 158.9 C109.6 160.4 110 161.6 110.5 162.9" stroke="#8A7A6A" stroke-width="1.1" fill="none"/>
<path d="M98.6 95 L98.6 124 C98.8 128 99.8 130 100.7 132 C101.6 135 102.5 138 103.5 141 C104.6 144 105.8 147 107 150 C107.9 153 108.6 156 109.2 158.9 C109.6 160.4 110 161.6 110.5 162.9" stroke="#E6DCD0" stroke-width="0.5" fill="none"/>
<path d="M110.5 162.9 C112 167 115.5 171 120 172.8 C123 173.8 125.5 174 128.3 174" stroke="#7C7C7C" stroke-width="1.1" fill="none"/>
<path fill="#EE5E10" d="M92.9 77 L92.9 68 C92.9 64.2 95.8 61.6 99.7 61.6 C103.8 61.6 106.6 64.2 106.6 67.8 L106.6 70 L100 71 L100 77 Z"/>
<g transform="translate(2.4,43.9) scale(0.6)">
<path fill="#F6CDBB" stroke="#BE4C58" stroke-width="0.7" d="M148.6 51.6 C144 52.5 140.6 58 140.5 64.5 C140.6 70 143 75 148 79.2 C154 83.8 162 87.6 172 88.8 C177 89.3 181.5 88.4 184 85 C187 81 188.4 76 188.3 71 C188 64 185.5 57.5 181 52.5 C178 49.3 174.5 46.2 170.5 44.2 L158 56 C155 53.5 152 51.5 148.6 51.6 Z"/>
<path fill="#EF8D99" d="M148.8 53.3 C145 54 142.3 58.5 142.2 64.5 C142.3 69.5 144.5 74 149 77.8 C154.5 82 162 85.2 170.5 86.3 C166 83 162.5 78 161.2 72 C160.6 68 160 65 158.6 62 L157 57.5 C154.5 55 151.5 53.2 148.8 53.3 Z"/>
<path fill="#E86A7C" d="M152 68 C153.5 74 160 81.5 168.6 85.6 C164.6 82 162 77.5 160.8 72 C160.4 69.5 159.8 67 159 65 C156.5 66.5 154 67.5 152 68 Z"/>
<path fill="#F4AEB4" d="M170.6 45.8 C174 47.5 177.5 50.5 180.2 53.8 C176 52.5 171 53.5 167.5 57 C168 52.5 169.2 48.5 170.6 45.8 Z"/>
<radialGradient id="gb446" cx="0.55" cy="0.55" r="0.6"><stop offset="0" stop-color="#E04863"/><stop offset="0.6" stop-color="#E65C72"/><stop offset="1" stop-color="#F0909C"/></radialGradient>
<path fill="url(#gb446)" d="M166.9 58.3 C169.5 54.5 173 52.5 176.5 54 C180 56.5 183 63 183.6 70 C184 76 181.5 81 178.3 82.4 C174 82.6 169 80.5 165.6 76.5 C163 73 161.6 68.5 161.6 65 C162.8 62 164.8 59.8 166.9 58.3 Z"/>
<path d="M158.8 62.3 C159.2 68 160.5 74 164 78.6 C168 83.3 174 85.8 179.5 85.2 C183.5 83.5 186 78 186 71.5 C185.8 64 183 57 178.8 52.2 C176.5 49.5 173.5 46.5 170.7 44.8" stroke="#FFF8F4" stroke-width="0.7" fill="none" stroke-linecap="round"/>
<path d="M166.9 58.3 C164.8 59.8 162.8 62 161.6 65 C161.6 68.5 163 73 165.6 76.5 C169 80.5 174 82.6 178.3 82.4" stroke="#FFF8F4" stroke-width="0.6" fill="none" stroke-linecap="round"/>
<path d="M142.4 66.5 C146 67 150 67.3 153.2 66.6 M158.7 62.2 C157.6 64.5 156.6 67 156.4 69.5 M172.4 51 C174 53.5 175 55.5 175.2 57.8 M167 58.2 C168.5 57.2 170 56.8 171.5 57" stroke="#FFF8F4" stroke-width="0.7" fill="none" stroke-linecap="round"/>
<path fill="#EE5E10" d="M159 61 C155.5 58 154 54.5 153.2 51 C152.2 46 151 43 151.2 39 C151.5 33 155 28 160.3 27.1 C166.3 26.5 171.8 30 172.9 35.3 L173 46 L161.6 46 C161.7 49.5 162.8 53 167 56.6 L163.5 61.5 Z"/>
<path d="M156.6 29.3 L154.7 25 M164.4 27.8 L165.8 23 M168.8 29.6 L170.6 26.4" stroke="#EE5E10" stroke-width="3.2" stroke-linecap="round" fill="none"/>
<path fill="#9B86C8" d="M161.6 40 C161.6 38.6 162.6 38 164 38 L177.4 38 C178.4 38 178.8 38.6 178.8 39.6 L178.8 42.8 C178.8 43.8 178.2 44.3 177.2 44.3 L170.4 44.3 C169.6 45.6 169.4 47 169.1 48.5 C167.3 49.4 163.4 49.2 162 48 Z"/>
<ellipse cx="165.6" cy="47.7" rx="3" ry="1" fill="#CDBDE6"/>
<ellipse cx="165.6" cy="47.7" rx="1.8" ry="0.5" fill="#45356F"/>
<path d="M149.2 53 L149.2 80" stroke="#FFFFFF" stroke-width="3.2" stroke-opacity="0.35" fill="none"/>
<rect x="147.5" y="52.9" width="3.4" height="15.2" fill="#FFFFFF"/>
<path d="M148.3 54 L150.1 55.6 L148.3 57.2 L150.1 58.8 L148.3 60.4 L150.1 62 L148.3 63.6 L150.1 65.2 L148.3 66.8" stroke="#111111" stroke-width="1.7" stroke-dasharray="2 1.6" fill="none"/>
<circle cx="146.4" cy="56.2" r="0.7" fill="#D62038"/><circle cx="146.8" cy="65" r="0.7" fill="#D62038"/><circle cx="151.9" cy="66.5" r="0.8" fill="#D62038"/>
<path d="M167.6 38 C166.8 35.2 164 33.6 161.4 34.3 C158.2 35.3 156.6 39 157 44 C157.6 50 160 55 163.8 59.6 L172.3 65.6" stroke="#3E3E3E" stroke-width="2.3" fill="none" stroke-linecap="round" stroke-linejoin="round"/>
<path d="M167.6 38 C166.8 35.2 164 33.6 161.4 34.3 C158.2 35.3 156.6 39 157 44 C157.6 50 160 55 163.8 59.6 L172.3 65.6" stroke="#E8F1F6" stroke-width="1.1" fill="none" stroke-linecap="round" stroke-linejoin="round"/>
<path d="M172.3 65.6 L175.4 67.4" stroke="#3A2A2A" stroke-width="0.9" fill="none"/>
<circle cx="176.7" cy="67.7" r="1.25" fill="#7A2A38"/>
</g>
<rect x="137.6" y="19.9" width="54.1" height="75.6" fill="#fff" stroke="#3A3A3A" stroke-width="1"/>
<path fill="#6193DD" d="M146 32.4 L152.4 32.4 L152.8 60 L154.4 89.6 L146.4 89.6 L145.4 60 Z"/>
<path d="M149.2 33 L149.2 50" stroke="#7FA9E6" stroke-width="2.2" fill="none"/>
<ellipse cx="149.2" cy="32.6" rx="3.2" ry="0.9" fill="#9CC0F0"/>
<path d="M149.4 76 L149.4 89.6" stroke="#FFFFFF" stroke-width="3" fill="none"/>
<path d="M147.9 76 L147.9 89.6 M150.9 76 L150.9 89.6" stroke="#3C5C9C" stroke-width="0.5" fill="none"/>
<rect x="156" y="80" width="7.4" height="11.6" fill="#EE5E10"/>
<path d="M160.2 84 L160.2 91.6" stroke="#6A6A6A" stroke-width="1.7" fill="none"/>
<path d="M160.2 84 L160.2 91.6" stroke="#F0F0F0" stroke-width="0.8" fill="none"/>
<path fill="#F6CDBB" stroke="#BE4C58" stroke-width="0.7" d="M148.6 51.6 C144 52.5 140.6 58 140.5 64.5 C140.6 70 143 75 148 79.2 C154 83.8 162 87.6 172 88.8 C177 89.3 181.5 88.4 184 85 C187 81 188.4 76 188.3 71 C188 64 185.5 57.5 181 52.5 C178 49.3 174.5 46.2 170.5 44.2 L158 56 C155 53.5 152 51.5 148.6 51.6 Z"/>
<path fill="#EF8D99" d="M148.8 53.3 C145 54 142.3 58.5 142.2 64.5 C142.3 69.5 144.5 74 149 77.8 C154.5 82 162 85.2 170.5 86.3 C166 83 162.5 78 161.2 72 C160.6 68 160 65 158.6 62 L157 57.5 C154.5 55 151.5 53.2 148.8 53.3 Z"/>
<path fill="#E86A7C" d="M152 68 C153.5 74 160 81.5 168.6 85.6 C164.6 82 162 77.5 160.8 72 C160.4 69.5 159.8 67 159 65 C156.5 66.5 154 67.5 152 68 Z"/>
<path fill="#F4AEB4" d="M170.6 45.8 C174 47.5 177.5 50.5 180.2 53.8 C176 52.5 171 53.5 167.5 57 C168 52.5 169.2 48.5 170.6 45.8 Z"/>
<radialGradient id="gi446" cx="0.55" cy="0.55" r="0.6"><stop offset="0" stop-color="#E04863"/><stop offset="0.6" stop-color="#E65C72"/><stop offset="1" stop-color="#F0909C"/></radialGradient>
<path fill="url(#gi446)" d="M166.9 58.3 C169.5 54.5 173 52.5 176.5 54 C180 56.5 183 63 183.6 70 C184 76 181.5 81 178.3 82.4 C174 82.6 169 80.5 165.6 76.5 C163 73 161.6 68.5 161.6 65 C162.8 62 164.8 59.8 166.9 58.3 Z"/>
<path d="M158.8 62.3 C159.2 68 160.5 74 164 78.6 C168 83.3 174 85.8 179.5 85.2 C183.5 83.5 186 78 186 71.5 C185.8 64 183 57 178.8 52.2 C176.5 49.5 173.5 46.5 170.7 44.8" stroke="#FFF8F4" stroke-width="0.7" fill="none" stroke-linecap="round"/>
<path d="M166.9 58.3 C164.8 59.8 162.8 62 161.6 65 C161.6 68.5 163 73 165.6 76.5 C169 80.5 174 82.6 178.3 82.4" stroke="#FFF8F4" stroke-width="0.6" fill="none" stroke-linecap="round"/>
<path d="M142.4 66.5 C146 67 150 67.3 153.2 66.6 M158.7 62.2 C157.6 64.5 156.6 67 156.4 69.5 M172.4 51 C174 53.5 175 55.5 175.2 57.8 M167 58.2 C168.5 57.2 170 56.8 171.5 57" stroke="#FFF8F4" stroke-width="0.7" fill="none" stroke-linecap="round"/>
<path fill="#EE5E10" d="M159 61 C155.5 58 154 54.5 153.2 51 C152.2 46 151 43 151.2 39 C151.5 33 155 28 160.3 27.1 C166.3 26.5 171.8 30 172.9 35.3 L173 46 L161.6 46 C161.7 49.5 162.8 53 167 56.6 L163.5 61.5 Z"/>
<path d="M156.6 29.3 L154.7 25 M164.4 27.8 L165.8 23 M168.8 29.6 L170.6 26.4" stroke="#EE5E10" stroke-width="3.2" stroke-linecap="round" fill="none"/>
<path fill="#9B86C8" d="M161.6 40 C161.6 38.6 162.6 38 164 38 L177.4 38 C178.4 38 178.8 38.6 178.8 39.6 L178.8 42.8 C178.8 43.8 178.2 44.3 177.2 44.3 L170.4 44.3 C169.6 45.6 169.4 47 169.1 48.5 C167.3 49.4 163.4 49.2 162 48 Z"/>
<ellipse cx="165.6" cy="47.7" rx="3" ry="1" fill="#CDBDE6"/>
<ellipse cx="165.6" cy="47.7" rx="1.8" ry="0.5" fill="#45356F"/>
<path d="M149.2 53 L149.2 80" stroke="#FFFFFF" stroke-width="3.2" stroke-opacity="0.35" fill="none"/>
<rect x="147.5" y="52.9" width="3.4" height="15.2" fill="#FFFFFF"/>
<path d="M148.3 54 L150.1 55.6 L148.3 57.2 L150.1 58.8 L148.3 60.4 L150.1 62 L148.3 63.6 L150.1 65.2 L148.3 66.8" stroke="#111111" stroke-width="1.1" stroke-dasharray="1.5 0.9" fill="none"/>
<circle cx="146.4" cy="56.2" r="0.7" fill="#D62038"/><circle cx="146.8" cy="65" r="0.7" fill="#D62038"/><circle cx="151.9" cy="66.5" r="0.8" fill="#D62038"/>
<path d="M167.6 38 C166.8 35.2 164 33.6 161.4 34.3 C158.2 35.3 156.6 39 157 44 C157.6 50 160 55 163.8 59.6 L172.3 65.6" stroke="#3E3E3E" stroke-width="2.3" fill="none" stroke-linecap="round" stroke-linejoin="round"/>
<path d="M167.6 38 C166.8 35.2 164 33.6 161.4 34.3 C158.2 35.3 156.6 39 157 44 C157.6 50 160 55 163.8 59.6 L172.3 65.6" stroke="#E8F1F6" stroke-width="1.1" fill="none" stroke-linecap="round" stroke-linejoin="round"/>
<path d="M172.3 65.6 L175.4 67.4" stroke="#3A2A2A" stroke-width="0.9" fill="none"/>
<circle cx="176.7" cy="67.7" r="1.25" fill="#7A2A38"/>
<g transform="translate(-219.8,0)">
<path d="M285 147.4 C291 147.2 293.2 151.6 296 155.6 C298.6 159.3 301 160.6 303.6 160.4" stroke="#7E7E7E" stroke-width="2.7" fill="none" stroke-linecap="round"/><path d="M285 147.4 C291 147.2 293.2 151.6 296 155.6 C298.6 159.3 301 160.6 303.6 160.4" stroke="#F6F6F6" stroke-width="1.4" fill="none" stroke-linecap="round"/>
<path d="M270.4 174.7 C281 175 291 174.4 296.6 171 C300.2 168.6 302.4 165.4 304.2 161.6" stroke="#7E7E7E" stroke-width="2.7" fill="none" stroke-linecap="round"/><path d="M270.4 174.7 C281 175 291 174.4 296.6 171 C300.2 168.6 302.4 165.4 304.2 161.6" stroke="#F6F6F6" stroke-width="1.4" fill="none" stroke-linecap="round"/>
<path d="M272.6 162.2 C268.6 162 266.2 163.4 266 166.4 L265.9 170" stroke="#7E7E7E" stroke-width="2.7" fill="none" stroke-linecap="round"/><path d="M272.6 162.2 C268.6 162 266.2 163.4 266 166.4 L265.9 170" stroke="#F6F6F6" stroke-width="1.4" fill="none" stroke-linecap="round"/>
<rect x="261.2" y="169.8" width="4.7" height="9.8" rx="0.5" fill="#D6D6D6" stroke="#777" stroke-width="0.7"/>
<path d="M262.4 170.6 L262.4 178.8" stroke="#F2F2F2" stroke-width="0.8"/>
<path d="M265.9 172 L268.6 172.6 L270.4 173.8 L270.4 175.8 L268.6 177.2 L265.9 178 Z" fill="#E2E2E2" stroke="#777" stroke-width="0.6"/>
<path d="M271.8 142 L282.2 142 L282.2 151.8 C282.2 154 279.6 154.6 279.4 156.2 L279.4 160.3 L274 160.3 L274 156.2 C273.8 154.6 271.8 154 271.8 151.8 Z" fill="#F4F4F4" stroke="#7E7E7E" stroke-width="0.7"/>
<path d="M279.2 143.4 L279.2 152.4" stroke="#CACACA" stroke-width="1.5"/>
<path d="M273.4 143.4 L273.4 152" stroke="#FFFFFF" stroke-width="1.2"/>
<path d="M274 156.2 L279.4 156.2" stroke="#9A9A9A" stroke-width="0.5"/>
<rect x="282.2" y="144.6" width="2.6" height="5" fill="#E4E4E4" stroke="#7E7E7E" stroke-width="0.6"/>
<rect x="280.8" y="154" width="3" height="2.4" fill="#E4E4E4" stroke="#7E7E7E" stroke-width="0.5"/>
<path d="M270.2 141.4 C270.6 139.6 273.6 137.2 276.4 136.4 C279.6 137 283.8 139.4 284.9 141.4 C285 142.4 284.4 142.9 283.4 142.9 L271.6 142.9 C270.6 142.9 270 142.4 270.2 141.4 Z" fill="#5454D2"/>
<path d="M272.6 140 C274 138.6 275.4 137.8 276.6 137.4" stroke="#8C8CEA" stroke-width="0.9" fill="none" stroke-linecap="round"/>
<rect x="272.3" y="160.2" width="8.3" height="3.7" rx="1.2" fill="#5454D2"/>
<path d="M273.6 161.2 L279.2 161.2" stroke="#8C8CEA" stroke-width="0.7"/>
</g>
</g>
<line x1="31.3" y1="205.5" x2="31.3" y2="332.4" stroke="#D2D2D2" stroke-width="0.8"/>
<line x1="60.9" y1="205.5" x2="60.9" y2="332.4" stroke="#D2D2D2" stroke-width="0.8"/>
<line x1="90.5" y1="205.5" x2="90.5" y2="332.4" stroke="#D2D2D2" stroke-width="0.8"/>
<line x1="120.1" y1="205.5" x2="120.1" y2="332.4" stroke="#D2D2D2" stroke-width="0.8"/>
<line x1="149.7" y1="205.5" x2="149.7" y2="332.4" stroke="#D2D2D2" stroke-width="0.8"/>
<line x1="179.3" y1="205.5" x2="179.3" y2="332.4" stroke="#D2D2D2" stroke-width="0.8"/>
<line x1="208.9" y1="205.5" x2="208.9" y2="332.4" stroke="#D2D2D2" stroke-width="0.8"/>
<line x1="31.3" y1="332.4" x2="208.9" y2="332.4" stroke="#D2D2D2" stroke-width="0.8"/>
<line x1="31.3" y1="307" x2="208.9" y2="307" stroke="#D2D2D2" stroke-width="0.8"/>
<line x1="31.3" y1="281.6" x2="208.9" y2="281.6" stroke="#D2D2D2" stroke-width="0.8"/>
<line x1="31.3" y1="256.3" x2="208.9" y2="256.3" stroke="#D2D2D2" stroke-width="0.8"/>
<line x1="31.3" y1="230.9" x2="208.9" y2="230.9" stroke="#D2D2D2" stroke-width="0.8"/>
<line x1="31.3" y1="205.5" x2="208.9" y2="205.5" stroke="#D2D2D2" stroke-width="0.8"/>
<line x1="31.3" y1="205.5" x2="31.3" y2="332.4" stroke="#B4B4B4" stroke-width="0.9"/>
<line x1="31.3" y1="332.4" x2="208.9" y2="332.4" stroke="#B4B4B4" stroke-width="0.9"/>
<text x="31.3" y="345.6" font-size="8.7" text-anchor="middle" fill="#111">0</text>
<text x="60.9" y="345.6" font-size="8.7" text-anchor="middle" fill="#111">50</text>
<text x="90.5" y="345.6" font-size="8.7" text-anchor="middle" fill="#111">100</text>
<text x="120.1" y="345.6" font-size="8.7" text-anchor="middle" fill="#111">150</text>
<text x="149.7" y="345.6" font-size="8.7" text-anchor="middle" fill="#111">200</text>
<text x="179.3" y="345.6" font-size="8.7" text-anchor="middle" fill="#111">250</text>
<text x="208.9" y="345.6" font-size="8.7" text-anchor="middle" fill="#111">300</text>
<text x="24.8" y="335.2" font-size="8.7" text-anchor="end" fill="#111">0</text>
<text x="24.8" y="309.9" font-size="8.7" text-anchor="end" fill="#111">30</text>
<text x="24.8" y="284.5" font-size="8.7" text-anchor="end" fill="#111">60</text>
<text x="24.8" y="259.1" font-size="8.7" text-anchor="end" fill="#111">90</text>
<text x="24.8" y="233.7" font-size="8.7" text-anchor="end" fill="#111">120</text>
<text x="24.8" y="208.3" font-size="8.7" text-anchor="end" fill="#111">150</text>
<text x="120.1" y="356.4" font-size="8.7" text-anchor="middle" fill="#111">Volume, ml</text>
<text transform="translate(6.9,267.1) rotate(-90)" font-size="8.799999999999999" text-anchor="middle" fill="#111">Pressure, mmHg</text>
<text x="77.2" y="199.2" font-size="10.9" fill="#000" textLength="85.6" lengthAdjust="spacingAndGlyphs" xml:space="preserve">Impella  CP alone</text>
<path d="M114.2 330.3 L114.5 322.2 L115.4 298.6 L116.3 268.9 L116.8 252.5 L120.1 253.3 L125.3 254.6 L132.3 258.6 L138.4 259.2 L140.2 258 L142.4 256.7 L139.6 258 L138.8 266.4 L138.5 290.1 L138.2 307 L137.4 322.8 L130.3 322.4 L120.2 321.8 L117.1 323.5 L115.8 324.8 L114.8 329 L114.2 330.3" fill="none" stroke="#1FA84F" stroke-width="1.4" stroke-linejoin="round" stroke-linecap="round"/>
<path d="M115.1 329.9 L115.7 319.7 L116.5 294.3 L117.4 266.4 L118 253.7 L121.3 254.6 L126 256.7 L133.1 259.6 L138.5 260.1 L141.4 257.1 L139.3 261.3 L139.5 281.6 L139.2 307 L138.5 323.1 L131.9 323.5 L121.3 322.7 L117.7 324.4 L116.3 327.3 L115.1 329.9" fill="none" stroke="#1FA84F" stroke-width="1.2" stroke-linejoin="round" stroke-linecap="round"/>
<path d="M113.9 329 L114.8 315.5 L115.7 290.1 L116.5 264.7 L117.4 252 L120.7 253.9 L125.4 255.8 L132.5 259.2 L139 259.6 L142 255.8 L139.2 259.6 L139 273.2 L138.9 298.6 L138 321.8 L130.8 323.1 L120.7 322.2 L116.5 324.8 L115.1 327.3 L114.4 331.1" fill="none" stroke="#1FA84F" stroke-width="1.0" stroke-linejoin="round" stroke-linecap="round"/>
<path d="M113.1 324.8 L114.5 307 L116.1 285.9 L117.5 266.4 L118.3 258 L120.7 260.3 L124.2 263.3 L127.2 265.1 L130.3 267.3 L133.1 268.8 L136.4 271.3 L139.6 272.5 L142.4 272.8 L145 273 L147.5 270.7 L149.1 272.3 L149.5 290.5 L149.6 307 L149.5 314.7 L148.8 318.9 L147.5 319.2 L143.8 319.5 L140.4 318.8 L134.9 318.2 L130.3 317.8 L126 317.7 L122.2 317.8 L119.5 318.4 L117.2 319.8 L115.1 321.8 L113.7 323.8 L113.1 324.8" fill="none" stroke="#FFB800" stroke-width="1.9" stroke-linejoin="round" stroke-linecap="round"/>
<path d="M113.1 324.8 L114.5 307 L116.1 285.9 L117.5 266.4 L118.3 258 L120.7 260.3 L124.2 263.3 L127.2 265.1 L130.3 267.3 L133.1 268.8 L136.4 271.3 L139.6 272.5 L142.4 272.8" fill="none" stroke="#FFB800" stroke-width="2.6" stroke-linejoin="round" stroke-linecap="round"/>
<line x1="255.5" y1="205.5" x2="255.5" y2="332.4" stroke="#D2D2D2" stroke-width="0.8"/>
<line x1="285.8" y1="205.5" x2="285.8" y2="332.4" stroke="#D2D2D2" stroke-width="0.8"/>
<line x1="316.1" y1="205.5" x2="316.1" y2="332.4" stroke="#D2D2D2" stroke-width="0.8"/>
<line x1="346.4" y1="205.5" x2="346.4" y2="332.4" stroke="#D2D2D2" stroke-width="0.8"/>
<line x1="376.7" y1="205.5" x2="376.7" y2="332.4" stroke="#D2D2D2" stroke-width="0.8"/>
<line x1="407" y1="205.5" x2="407" y2="332.4" stroke="#D2D2D2" stroke-width="0.8"/>
<line x1="437.3" y1="205.5" x2="437.3" y2="332.4" stroke="#D2D2D2" stroke-width="0.8"/>
<line x1="255.5" y1="332.4" x2="437.3" y2="332.4" stroke="#D2D2D2" stroke-width="0.8"/>
<line x1="255.5" y1="307" x2="437.3" y2="307" stroke="#D2D2D2" stroke-width="0.8"/>
<line x1="255.5" y1="281.6" x2="437.3" y2="281.6" stroke="#D2D2D2" stroke-width="0.8"/>
<line x1="255.5" y1="256.3" x2="437.3" y2="256.3" stroke="#D2D2D2" stroke-width="0.8"/>
<line x1="255.5" y1="230.9" x2="437.3" y2="230.9" stroke="#D2D2D2" stroke-width="0.8"/>
<line x1="255.5" y1="205.5" x2="437.3" y2="205.5" stroke="#D2D2D2" stroke-width="0.8"/>
<line x1="255.5" y1="205.5" x2="255.5" y2="332.4" stroke="#B4B4B4" stroke-width="0.9"/>
<line x1="255.5" y1="332.4" x2="437.3" y2="332.4" stroke="#B4B4B4" stroke-width="0.9"/>
<text x="255.5" y="345.6" font-size="8.7" text-anchor="middle" fill="#111">0</text>
<text x="285.8" y="345.6" font-size="8.7" text-anchor="middle" fill="#111">50</text>
<text x="316.1" y="345.6" font-size="8.7" text-anchor="middle" fill="#111">100</text>
<text x="346.4" y="345.6" font-size="8.7" text-anchor="middle" fill="#111">150</text>
<text x="376.7" y="345.6" font-size="8.7" text-anchor="middle" fill="#111">200</text>
<text x="407" y="345.6" font-size="8.7" text-anchor="middle" fill="#111">250</text>
<text x="437.3" y="345.6" font-size="8.7" text-anchor="middle" fill="#111">300</text>
<text x="249" y="335.2" font-size="8.7" text-anchor="end" fill="#111">0</text>
<text x="249" y="309.9" font-size="8.7" text-anchor="end" fill="#111">30</text>
<text x="249" y="284.5" font-size="8.7" text-anchor="end" fill="#111">60</text>
<text x="249" y="259.1" font-size="8.7" text-anchor="end" fill="#111">90</text>
<text x="249" y="233.7" font-size="8.7" text-anchor="end" fill="#111">120</text>
<text x="249" y="208.3" font-size="8.7" text-anchor="end" fill="#111">150</text>
<text x="346.4" y="356.4" font-size="8.7" text-anchor="middle" fill="#111">Volume, ml</text>
<text transform="translate(230,267.1) rotate(-90)" font-size="8.799999999999999" text-anchor="middle" fill="#111">Pressure, mmHg</text>
<text x="305" y="199.2" font-size="11.1" fill="#000" textLength="83" lengthAdjust="spacingAndGlyphs" xml:space="preserve">VA-ECMO alone</text>
<path d="M339.2 324.8 L340.6 307 L342.3 285.9 L343.7 266.4 L344.6 258 L347 260.3 L350.6 263.3 L353.7 265.1 L356.8 267.3 L359.7 268.8 L363.1 271.3 L366.4 272.5 L369.2 272.8 L371.9 273 L374.5 270.7 L376.1 272.3 L376.5 290.5 L376.6 307 L376.5 314.7 L375.8 318.9 L374.5 319.2 L370.6 319.5 L367.2 318.8 L361.6 318.2 L356.8 317.8 L352.5 317.7 L348.5 317.8 L345.8 318.4 L343.4 319.8 L341.2 321.8 L339.9 323.8 L339.2 324.8" fill="none" stroke="#FFB800" stroke-width="2.0" stroke-linejoin="round" stroke-linecap="round"/>
<path d="M339.2 324.8 L340.6 307 L342.3 285.9 L343.7 266.4 L344.6 258 L347 260.3 L350.6 263.3 L353.7 265.1 L356.8 267.3 L359.7 268.8 L363.1 271.3 L366.4 272.5 L369.2 272.8" fill="none" stroke="#FFB800" stroke-width="2.7" stroke-linejoin="round" stroke-linecap="round"/>
<path d="M368.6 237.6 L371.2 238.5 L374.3 241 L377.3 245.3 L378.5 237.6 L380 230.9 L379.4 247.8 L378.5 264.7 L377.6 290.1 L376.4 315.5 L374.9 324.4 L372.5 325.6 L370 326.2 L368.9 322.2 L368.4 298.6 L368 279.9 L368.2 256.3 L368.6 237.6" fill="none" stroke="#F01818" stroke-width="1.1" stroke-linejoin="round" stroke-linecap="round"/>
<line x1="482.2" y1="211.3" x2="482.2" y2="327.7" stroke="#D2D2D2" stroke-width="0.8"/>
<line x1="511.7" y1="211.3" x2="511.7" y2="327.7" stroke="#D2D2D2" stroke-width="0.8"/>
<line x1="541.2" y1="211.3" x2="541.2" y2="327.7" stroke="#D2D2D2" stroke-width="0.8"/>
<line x1="570.7" y1="211.3" x2="570.7" y2="327.7" stroke="#D2D2D2" stroke-width="0.8"/>
<line x1="600.2" y1="211.3" x2="600.2" y2="327.7" stroke="#D2D2D2" stroke-width="0.8"/>
<line x1="629.7" y1="211.3" x2="629.7" y2="327.7" stroke="#D2D2D2" stroke-width="0.8"/>
<line x1="659.2" y1="211.3" x2="659.2" y2="327.7" stroke="#D2D2D2" stroke-width="0.8"/>
<line x1="482.2" y1="327.7" x2="659.2" y2="327.7" stroke="#D2D2D2" stroke-width="0.8"/>
<line x1="482.2" y1="304.4" x2="659.2" y2="304.4" stroke="#D2D2D2" stroke-width="0.8"/>
<line x1="482.2" y1="281.1" x2="659.2" y2="281.1" stroke="#D2D2D2" stroke-width="0.8"/>
<line x1="482.2" y1="257.9" x2="659.2" y2="257.9" stroke="#D2D2D2" stroke-width="0.8"/>
<line x1="482.2" y1="234.6" x2="659.2" y2="234.6" stroke="#D2D2D2" stroke-width="0.8"/>
<line x1="482.2" y1="211.3" x2="659.2" y2="211.3" stroke="#D2D2D2" stroke-width="0.8"/>
<line x1="482.2" y1="211.3" x2="482.2" y2="327.7" stroke="#B4B4B4" stroke-width="0.9"/>
<line x1="482.2" y1="327.7" x2="659.2" y2="327.7" stroke="#B4B4B4" stroke-width="0.9"/>
<text x="482.2" y="340.9" font-size="8.7" text-anchor="middle" fill="#111">0</text>
<text x="511.7" y="340.9" font-size="8.7" text-anchor="middle" fill="#111">50</text>
<text x="541.2" y="340.9" font-size="8.7" text-anchor="middle" fill="#111">100</text>
<text x="570.7" y="340.9" font-size="8.7" text-anchor="middle" fill="#111">150</text>
<text x="600.2" y="340.9" font-size="8.7" text-anchor="middle" fill="#111">200</text>
<text x="629.7" y="340.9" font-size="8.7" text-anchor="middle" fill="#111">250</text>
<text x="659.2" y="340.9" font-size="8.7" text-anchor="middle" fill="#111">300</text>
<text x="475.7" y="330.5" font-size="8.7" text-anchor="end" fill="#111">0</text>
<text x="475.7" y="307.3" font-size="8.7" text-anchor="end" fill="#111">30</text>
<text x="475.7" y="284" font-size="8.7" text-anchor="end" fill="#111">60</text>
<text x="475.7" y="260.7" font-size="8.7" text-anchor="end" fill="#111">90</text>
<text x="475.7" y="237.4" font-size="8.7" text-anchor="end" fill="#111">120</text>
<text x="475.7" y="214.1" font-size="8.7" text-anchor="end" fill="#111">150</text>
<text x="570.7" y="356.5" font-size="8.7" text-anchor="middle" fill="#111">Volume, ml</text>
<text transform="translate(458.6,267.6) rotate(-90)" font-size="8.799999999999999" text-anchor="middle" fill="#111">Pressure, mmHg</text>
<text x="505.4" y="198.8" font-size="10.9" fill="#000" textLength="133.4" lengthAdjust="spacingAndGlyphs" xml:space="preserve">Impella  CP and VA-ECMO</text>
<path d="M563.7 320.7 L565.1 304.4 L566.7 285 L568.1 267.2 L568.9 259.4 L571.3 261.6 L574.8 264.3 L577.8 266 L580.8 268 L583.7 269.3 L586.9 271.7 L590.2 272.8 L592.9 273 L595.5 273.2 L598 271.1 L599.6 272.6 L600 289.3 L600.1 304.4 L600 311.5 L599.3 315.3 L598 315.6 L594.3 315.9 L590.9 315.2 L585.5 314.7 L580.8 314.4 L576.6 314.2 L572.8 314.4 L570.1 314.9 L567.8 316.1 L565.7 318 L564.3 319.8 L563.7 320.7" fill="none" stroke="#FFB800" stroke-width="1.9" stroke-linejoin="round" stroke-linecap="round"/>
<path d="M563.7 320.7 L565.1 304.4 L566.7 285 L568.1 267.2 L568.9 259.4 L571.3 261.6 L574.8 264.3 L577.8 266 L580.8 268 L583.7 269.3 L586.9 271.7 L590.2 272.8 L592.9 273" fill="none" stroke="#FFB800" stroke-width="2.3" stroke-linejoin="round" stroke-linecap="round"/>
<path d="M582.2 327.3 L582.8 323.8 L582.2 313.7 L583.1 281.1 L583.6 254 L583.8 239.5 L587.2 239.2 L590.4 239.9 L590.8 250.1 L591.4 273.4 L592.2 302.9 L592.9 320.6 L590.2 322.3 L587.2 322.7 L584.4 322.8 L582.8 323.8" fill="none" stroke="#2F5FC8" stroke-width="1.3" stroke-linejoin="round" stroke-linecap="round"/>
<path d="M583.1 326.1 L583.4 304.4 L584 273.4 L584.6 240.4 L589.9 240.4 L590.2 257.9 L590.8 285 L591.6 308.3 L592.2 319.2 L590.8 323.4 L588.4 321.5 L584.9 321.9 L583.1 326.1" fill="none" stroke="#2F5FC8" stroke-width="1.0" stroke-linejoin="round" stroke-linecap="round"/>

<rect x="289.5" y="364.7" width="371.7" height="33.8" fill="#fff" stroke="#222" stroke-width="1"/>
<line x1="305.3" y1="373.7" x2="337.6" y2="373.7" stroke="#FFB800" stroke-width="2.5"/>
<line x1="305.3" y1="388" x2="337.6" y2="388" stroke="#1FA84F" stroke-width="2.5"/>
<line x1="473.9" y1="373.7" x2="506.6" y2="373.7" stroke="#F01818" stroke-width="2.5"/>
<line x1="473.9" y1="388" x2="506.6" y2="388" stroke="#1B68C2" stroke-width="2.5"/>
<text x="350.7" y="376.3" font-size="8.75" fill="#000">Cardiogenic shock (Control)</text>
<text x="350.7" y="390.8" font-size="8.75" fill="#000">Impella CP support</text>
<text x="518.7" y="377.3" font-size="8.75" fill="#000" xml:space="preserve">VA-ECMO  support</text>
<text x="518.7" y="390.8" font-size="8.75" fill="#000" textLength="132.6" lengthAdjust="spacingAndGlyphs" xml:space="preserve">Impella CP and VA-ECMO  support</text>


<text x="107.5" y="8.3" font-size="10" fill="#000">Impella</text>
<text x="324" y="8.3" font-size="10" fill="#000">VA-ECMO</text>
<text x="513" y="8.3" font-size="10" fill="#000">Impella + VA-ECMO</text>
<text x="14.3" y="400.4" font-size="13.3" fill="#000" textLength="207" lengthAdjust="spacingAndGlyphs">Effects of hemodynamics with MCS</text>

</svg>
<table>
<colgroup><col style="width:124px"><col style="width:177px"><col style="width:178px"><col style="width:177px"></colgroup>
<thead><tr><th></th><th>Impella alone</th><th>VA-ECMO alone</th><th>Impella and VA-ECMO</th></tr></thead>
<tbody>
<tr><td>Systemic circulation</td><td>+</td><td>++</td><td>+++</td></tr>
<tr><td>LV unloading</td><td>+++</td><td>-</td><td>++</td></tr>
<tr><td>Venous unloading</td><td>+</td><td>++</td><td>+++</td></tr>
</tbody>
</table>
</body>
</html>
